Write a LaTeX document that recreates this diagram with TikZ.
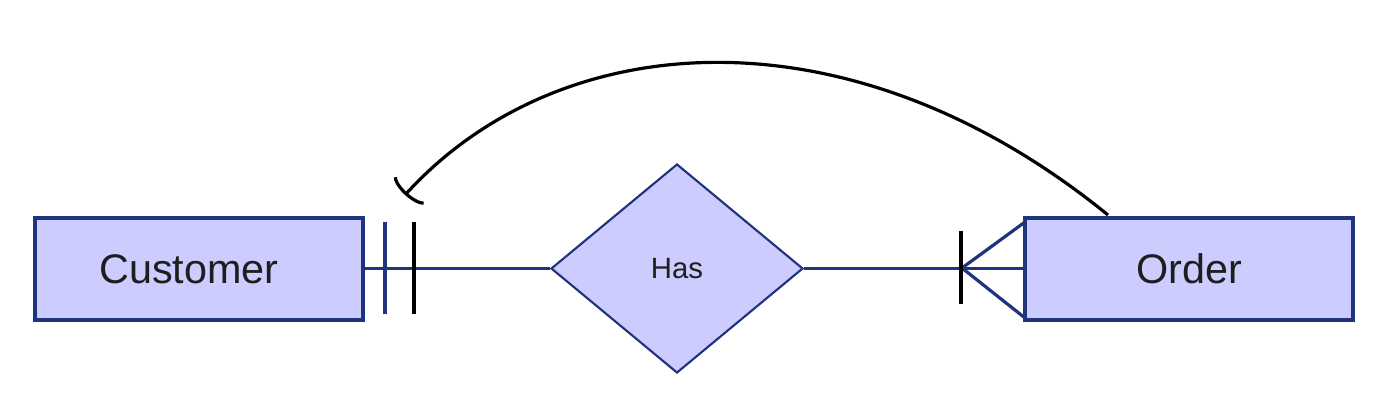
\documentclass[tikz,border=0pt]{standalone}
\usepackage{fontspec}
\setmainfont{Liberation Sans}
\usetikzlibrary{shapes.geometric,arrows.meta}

\definecolor{erfill}{RGB}{204,204,255}
\definecolor{erline}{RGB}{31,52,125}
\definecolor{ertext}{RGB}{30,30,30}

\tikzset{
  entity/.style={draw=erline, fill=erfill, line width=2.5pt, minimum width=246pt, minimum height=76.5pt, inner sep=0pt, text=ertext, font=\fontsize{31}{36}\selectfont},
  relation/.style={diamond, draw=erline, fill=erfill, line width=1.6pt, minimum width=189pt, minimum height=156.75pt, inner sep=0pt, text=ertext, font=\fontsize{22}{26}\selectfont},
  link/.style={draw=erline, line width=2.4pt},
  bar/.style={line width=2.4pt}
}

\begin{document}
\begin{tikzpicture}[x=0.75pt,y=0.75pt,yscale=-1,xscale=1]
\useasboundingbox (0,0) rectangle (1388,410);

%Shape: Rectangle [id:cust]
\node [entity] (cust) at (199,269) {Customer\hspace*{15pt}};
%Shape: Diamond [id:has]
\node [relation] (has) at (677,268.5) {Has};
%Shape: Rectangle [id:ord]
\node [entity] (ord) at (1189,269) {Order};

%Straight Lines [id:link1]
\draw [link] (cust.east |- has.west) -- (has.west) ;
%Straight Lines [id:link2]
\draw [link] (has.east) -- (ord.west |- has.east) ;

%Bars: one and only one
\coordinate (b1t) at (385,222); \coordinate (b1b) at (385,314);
\coordinate (b2t) at (414,222); \coordinate (b2b) at (414,314);
\draw [bar, color=erline] (b1t) -- (b1b) ;
\draw [bar, color=black] (b2t) -- (b2b) ;

%Crow's foot: one or many
\coordinate (cf) at (962,268);
\coordinate (cft) at (1025,222); \coordinate (cfb) at (1025,318);
\coordinate (c3t) at (961,231); \coordinate (c3b) at (961,304);
\draw [link] (cft) -- (cf) -- (cfb) ;
\draw [bar, color=black] (c3t) -- (c3b) ;

%Curve Lines [id:back]
\coordinate (bstart) at (1108,215);
\coordinate (bend) at (405,195);
\draw [line width=2.4pt, -{Arc Barb[arc=150,width=32pt,line width=2.4pt]}] (bstart) .. controls (850,5) and (560,25) .. (bend) ;

\end{tikzpicture}
\end{document}
